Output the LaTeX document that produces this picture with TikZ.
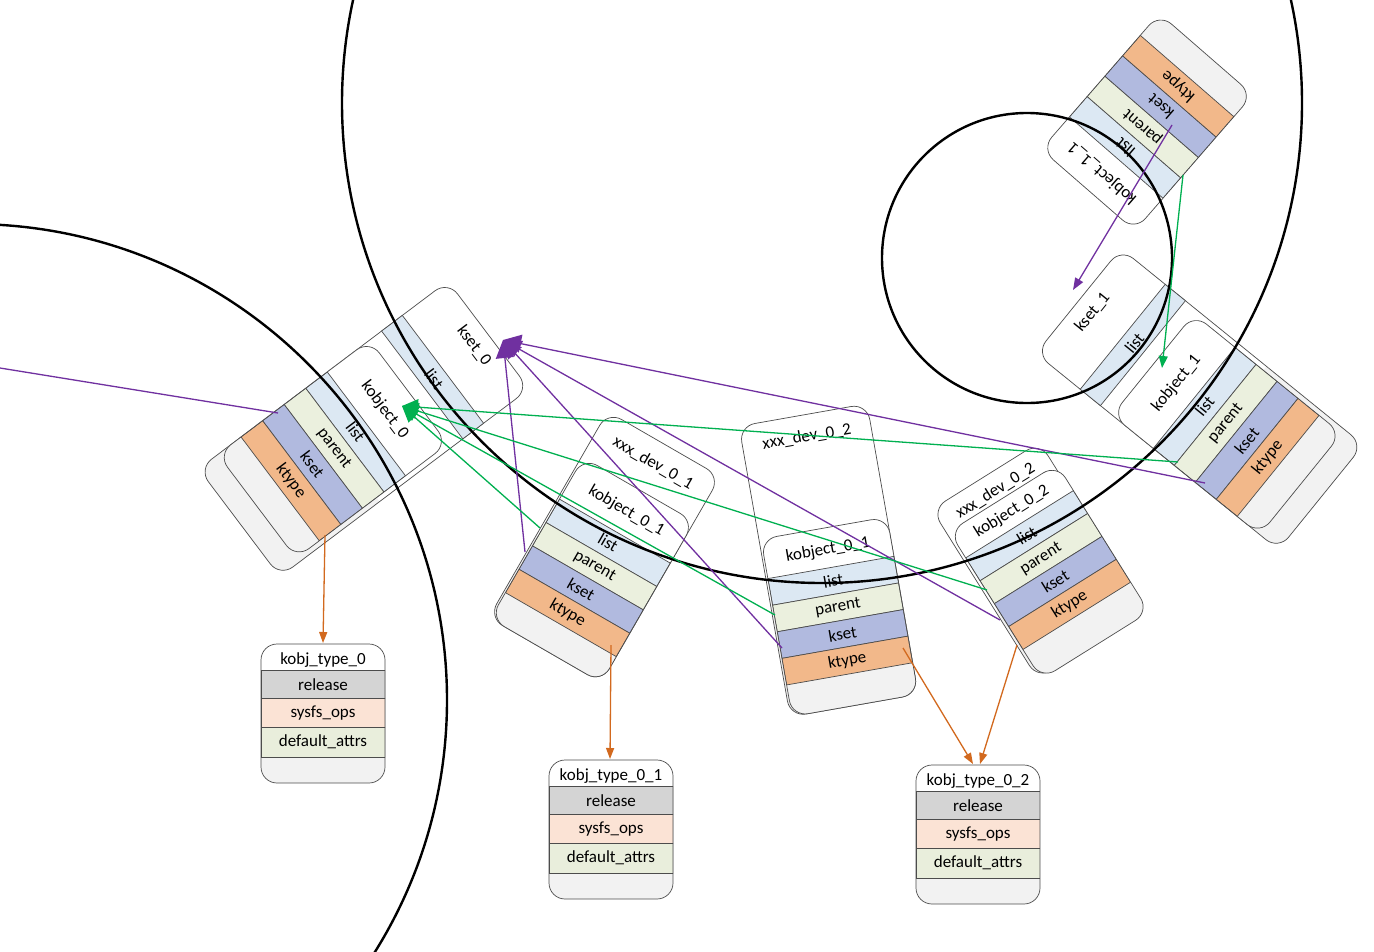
\documentclass[tikz,border=0pt]{standalone}
\usepackage{fontspec}
\setmainfont{Carlito}
\usetikzlibrary{arrows.meta}
\definecolor{clist}{HTML}{DCE8F3}
\definecolor{cpar}{HTML}{EBF0DE}
\definecolor{ckset}{HTML}{B1BADF}
\definecolor{cktype}{HTML}{F2B88A}
\definecolor{cgrey}{HTML}{F2F2F2}
\definecolor{crel}{HTML}{D4D4D4}
\definecolor{csys}{HTML}{FBE3D5}
\definecolor{cdef}{HTML}{E9EEDC}
\definecolor{cpurple}{HTML}{7030A0}
\definecolor{cgreen}{HTML}{00B050}
\definecolor{corange}{HTML}{D2691E}
\tikzset{
  txt/.style={inner sep=0pt,font=\fontsize{17}{20}\selectfont},
  boxline/.style={draw=black!70,line width=0.7pt},
  circ/.style={draw=black,line width=2.4pt},
  kp/.style={draw=cpurple,line width=1.3pt},
  kg/.style={draw=cgreen,line width=1.3pt},
  ko/.style={draw=corange,line width=1.3pt,-{Triangle[length=11pt,width=8pt]}},
}
\newcommand\krows[3]{%
  \foreach \lab/\col [count=\i from 0] in {list/clist,parent/cpar,kset/ckset,ktype/cktype}{%
    \pgfmathsetmacro\ya{#3+27*\i}%
    \filldraw[fill=\col,draw=black!70,line width=0.7pt] (#1,\ya) rectangle (#2,\ya+27);
    \node[txt] at ({(#1+#2)/2},\ya+13.5) {\lab};
  }}
% xl xr top bottom title titley stripestart
\newcommand\kobjstruct[7]{%
  \begin{scope}
    \clip[rounded corners=16pt] (#1,#3) rectangle (#2,#4);
    \fill[cgrey] (#1,#3) rectangle (#2,#4);
    \fill[white] (#1,#3) rectangle (#2,#7);
    \krows{#1}{#2}{#7}
  \end{scope}
  \draw[boxline,rounded corners=16pt] (#1,#3) rectangle (#2,#4);
  \node[txt] at ({(#1+#2)/2},#6) {#5};}
% outer container: xl xr top bottom title titley
\newcommand\container[6]{%
  \begin{scope}
    \clip[rounded corners=16pt] (#1,#3) rectangle (#2,#4);
    \fill[cgrey] (#1,#3) rectangle (#2,#4);
    \fill[white] (#1,#3) rectangle (#2,{#3+0.6*(#4-#3)});
  \end{scope}
  \draw[boxline,rounded corners=16pt] (#1,#3) rectangle (#2,#4);
  \node[txt] at ({(#1+#2)/2},#6) {#5};}
\newcommand\ksetgroup[2]{%
  \container{-70}{65}{0}{312}{#1}{18}
  \filldraw[fill=clist,draw=black!70,line width=0.7pt] (-70,57) rectangle (65,83);
  \node[txt] at (0,70) {list};
  \kobjstruct{-70}{60}{98}{288}{#2}{128}{151}}
% kobj_type box: x y title
\newcommand\ktbox[3]{%
  \begin{scope}[shift={(#1,#2)}]
    \begin{scope}
      \clip[rounded corners=16pt] (0,0) rectangle (124,139);
      \fill[cgrey] (0,0) rectangle (124,139);
      \fill[white] (0,0) rectangle (124,26);
      \filldraw[fill=crel,draw=black!70,line width=0.7pt] (0,26) rectangle (124,54);
      \filldraw[fill=csys,draw=black!70,line width=0.7pt] (0,54) rectangle (124,83);
      \filldraw[fill=cdef,draw=black!70,line width=0.7pt] (0,83) rectangle (124,113);
    \end{scope}
    \draw[boxline,rounded corners=16pt] (0,0) rectangle (124,139);
    \node[txt] at (62,16) {#3};
    \node[txt] at (62,41) {release};
    \node[txt] at (62,69) {sysfs\_ops};
    \node[txt] at (62,98) {default\_attrs};
  \end{scope}}
\begin{document}
\begin{tikzpicture}[x=1pt,y=-1pt]
\useasboundingbox (0,0) rectangle (1374,951);
\fill[white] (0,0) rectangle (1374,951);
% kset_0 / kobject_0
\begin{scope}[shift={(490,337)},rotate=-53,transform shape]
  \ksetgroup{kset\_0}{kobject\_0}
\end{scope}
% kset_1 / kobject_1
\begin{scope}[shift={(1080,299)},rotate=51,transform shape]
  \ksetgroup{kset\_1}{kobject\_1}
\end{scope}
% kobject_1_1
\begin{scope}[shift={(1088,190)},rotate=139,transform shape]
  \kobjstruct{-62}{62}{0}{180}{kobject\_1\_1}{22}{43}
\end{scope}
% xxx_dev_0_1
\begin{scope}[shift={(664,444)},rotate=-30,transform shape]
  \container{-65}{65}{0}{238}{xxx\_dev\_0\_1}{22}
  \kobjstruct{-63}{65}{52}{238}{kobject\_0\_1}{77}{100}
\end{scope}
% middle xxx_dev_0_2
\begin{scope}[shift={(803,415)},rotate=10,transform shape]
  \container{-65}{65}{0}{295}{xxx\_dev\_0\_2}{22}
  \kobjstruct{-63}{65}{115}{295}{kobject\_0\_1}{137}{155}
\end{scope}
% right xxx_dev_0_2
\begin{scope}[shift={(987,475)},rotate=32,transform shape]
  \container{-65}{62}{0}{200}{xxx\_dev\_0\_2}{18}
  \kobjstruct{-62}{65}{28}{202}{kobject\_0\_2}{44}{59}
\end{scope}
% kobj_type boxes
\ktbox{261}{644}{kobj\_type\_0}
\ktbox{549}{760}{kobj\_type\_0\_1}
\ktbox{916}{765}{kobj\_type\_0\_2}
% circles
\draw[circ] (822,103) circle[radius=480];
\draw[circ] (1027,258) circle[radius=145];
\draw[circ] (-29,700) circle[radius=476];
% coordinates
\coordinate (lft) at (0,368);
\coordinate (k0k) at (278,413);
\coordinate (kset0) at (503,340);
\coordinate (k01k) at (525,552);
\coordinate (k01bk) at (782,648);
\coordinate (k02k) at (1000,620);
\coordinate (k1k) at (1205,483);
\coordinate (k11k) at (1172,125);
\coordinate (kset1) at (1073,290);
\coordinate (kobj0) at (402,406);
\coordinate (k01p) at (540,528);
\coordinate (k01bp) at (775,615);
\coordinate (k02p) at (987,590);
\coordinate (k1p) at (1178,462);
\coordinate (k11p) at (1183,175);
\coordinate (kobj1) at (1162,368);
\coordinate (k0t) at (325,535);
\coordinate (kt0) at (323,643);
\coordinate (k01t) at (611,645);
\coordinate (kt01) at (610,759);
\coordinate (k01bt) at (903,648);
\coordinate (kt02a) at (973,764);
\coordinate (k02t) at (1017,645);
\coordinate (kt02b) at (980,764);
% purple
\draw[kp] (lft) -- (k0k);
\foreach \s in {k01k,k01bk,k02k,k1k}
  \draw[kp,-{Triangle[length=18pt,width=18pt]}] (\s) -- (kset0);
\draw[kp,-{Triangle[length=12pt,width=9pt]}] (k11k) -- (kset1);
% green
\foreach \s in {k01p,k01bp,k02p,k1p}
  \draw[kg,-{Triangle[length=16pt,width=16pt]}] (\s) -- (kobj0);
\draw[kg,-{Triangle[length=12pt,width=9pt]}] (k11p) -- (kobj1);
% orange
\draw[ko] (k0t) -- (kt0);
\draw[ko] (k01t) -- (kt01);
\draw[ko] (k01bt) -- (kt02a);
\draw[ko] (k02t) -- (kt02b);
\end{tikzpicture}
\end{document}
